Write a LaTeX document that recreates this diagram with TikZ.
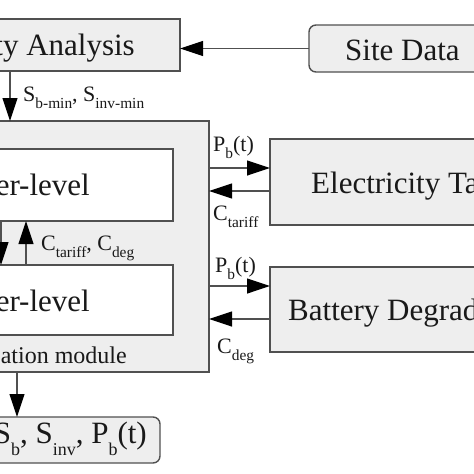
\documentclass[tikz,border=0pt]{standalone}
\usepackage{fontspec}
\setmainfont{Liberation Serif}
\usetikzlibrary{arrows.meta}
\definecolor{boxfill}{HTML}{EEEEEE}
\definecolor{edge}{HTML}{505050}
\newcommand\lsub[1]{\raisebox{-7pt}{\fontsize{15.4}{16}\selectfont #1}}
\newcommand\osub[1]{\raisebox{-12pt}{\fontsize{18}{19}\selectfont #1}}
\tikzset{
  box/.style={draw=edge, line width=1.4pt, fill=boxfill, inner sep=0pt, outer sep=0pt, anchor=north west},
  wbox/.style={box, fill=white},
  rbox/.style={box, rounded corners=7pt},
  big/.style={inner sep=0pt, font=\fontsize{31}{35}\selectfont, text=black!90},
  mid/.style={inner sep=0pt, font=\fontsize{24}{28}\selectfont, text=black!90},
  lbl/.style={inner sep=0pt, font=\fontsize{22}{26}\selectfont, text=black!90},
  arr/.style={draw=edge, line width=1.2pt, -{Triangle[length=23pt,width=15pt,color=black]}}
}
\begin{document}
\begin{tikzpicture}[x=1pt,y=-1pt]
\useasboundingbox (0,0) rectangle (474,474);
\clip (0,0) rectangle (474,474);
% boxes
\node[box, minimum width=380pt, minimum height=52pt] (ana) at (-200,19) {};
\node[rbox, minimum width=190pt, minimum height=47pt] (site) at (309,25) {};
\node[box, minimum width=409pt, minimum height=251pt] (mod) at (-200,121) {};
\node[wbox, minimum width=373pt, minimum height=72pt] (up) at (-200,149) {};
\node[wbox, minimum width=373pt, minimum height=70pt] (low) at (-200,265) {};
\node[box, minimum width=290pt, minimum height=86pt] (elec) at (270,139) {};
\node[box, minimum width=290pt, minimum height=85pt] (batt) at (270,267) {};
\node[rbox, minimum width=360pt, minimum height=46pt] (out) at (-200,417) {};
% texts
\node[big, anchor=base east] (tana) at (135,55) {ty Analysis};
\node[big, anchor=base west] (tsite) at (345,60) {Site Data};
\node[big, anchor=base east] (tup) at (90,195) {er-level};
\node[big, anchor=base east] (tlow) at (90,311) {er-level};
\node[mid, anchor=base east] (tmod) at (127,363) {ation module};
\node[big, anchor=base west] (telec) at (311,193) {Electricity Ta};
\node[big, anchor=base west] (tbatt) at (288,320) {Battery Degrad};
\node[big, anchor=base east] (tout) at (147,443) {S\osub{b}, S\osub{inv}, P\osub{b}(t)};
% connector coordinates
\coordinate (xa) at (10,0);
\coordinate (xd) at (1,0);
\coordinate (xu) at (26,0);
\coordinate (xo) at (17,0);
\coordinate (pe) at (0,168);
\coordinate (ce) at (0,191);
\coordinate (pb) at (0,286);
\coordinate (cb) at (0,319);
% connectors
\draw[arr] (site.west) -- (site.west -| ana.east);
\draw[arr] (xa |- ana.south) -- (xa |- mod.north);
\draw[arr] (xd |- up.south) -- (xd |- low.north);
\draw[arr] (xu |- low.north) -- (xu |- up.south);
\draw[arr] (mod.east |- pe) -- (elec.west |- pe);
\draw[arr] (elec.west |- ce) -- (mod.east |- ce);
\draw[arr] (mod.east |- pb) -- (batt.west |- pb);
\draw[arr] (batt.west |- cb) -- (mod.east |- cb);
\draw[arr] (xo |- mod.south) -- (xo |- out.north);
% labels
\node[lbl, anchor=base west] (l1) at (23,101) {S\lsub{b-min}, S\lsub{inv-min}};
\node[lbl, anchor=base west] (l2) at (41,250) {C\lsub{tariff}, C\lsub{deg}};
\node[lbl, anchor=base west] (l3) at (213,151) {P\lsub{b}(t)};
\node[lbl, anchor=base west] (l4) at (213,220) {C\lsub{tariff}};
\node[lbl, anchor=base west] (l5) at (215,272) {P\lsub{b}(t)};
\node[lbl, anchor=base west] (l6) at (217,353) {C\lsub{deg}};
\end{tikzpicture}
\end{document}
